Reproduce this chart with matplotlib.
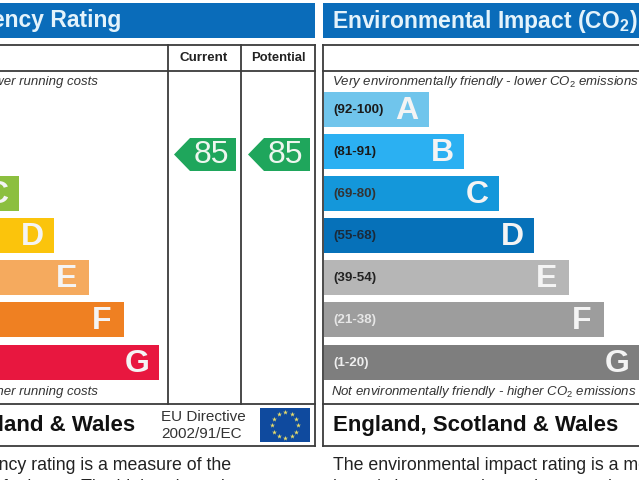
import matplotlib
matplotlib.use("Agg")
import matplotlib.pyplot as plt
from matplotlib.patches import Polygon, Rectangle
import numpy as np

plt.rcParams['font.family'] = ['Liberation Sans', 'DejaVu Sans']
plt.rcParams['mathtext.fontset'] = 'custom'
plt.rcParams['mathtext.rm'] = 'Liberation Sans'
plt.rcParams['mathtext.it'] = 'Liberation Sans:italic'
plt.rcParams['mathtext.bf'] = 'Liberation Sans:bold'

bands = ['A', 'B', 'C', 'D', 'E', 'F', 'G']
ranges = ['(92-100)', '(81-91)', '(69-80)', '(55-68)', '(39-54)', '(21-38)', '(1-20)']
band_lengths = [105, 140, 175, 210, 245, 280, 315]
band_tops = [92, 134, 176, 218, 260, 302, 345]
band_height = 34.5
energy_colors = ['#1a9a50', '#3cae48', '#8cbf3f', '#fbc40c', '#f5aa5e', '#ef8022', '#e8173f']
env_colors = ['#70c5ec', '#2bb0f2', '#1497da', '#0671b9', '#b6b6b6', '#9d9d9d', '#7e7e7e']
range_colors = ['#1a1a1a', '#1a1a1a', '#333333', '#1a2a3a', '#222222', '#e6e6e6', '#eeeeee']
current_rating = 85
potential_rating = 85

fig = plt.figure(figsize=(6.39, 4.80), dpi=100)
ax = fig.add_axes([0, 0, 1, 1])
ax.set_xlim(0, 639)
ax.set_ylim(480, 0)
ax.axis('off')

BLUE = '#0a6cba'
LINE = '#3c3c3c'
GREEN = '#1fa65c'
LEFT0, RIGHT0 = -156, 324
ITALIC = 9.5
PARA = 12.8

# header bands
ax.add_patch(Rectangle((-5, 3), 320, 35, fc=BLUE, ec='none'))
ax.add_patch(Rectangle((323, 3), 320, 35, fc=BLUE, ec='none'))
ax.text(121, 21, 'Energy Efficiency Rating', color='#e4f3fb', fontsize=16.5,
        fontweight='bold', ha='right', va='center')
ax.text(332, 21.5, r'Environmental Impact (CO$_{\mathbf{2}}$)', color='#e4f3fb',
        fontsize=16.5, fontweight='bold', ha='left', va='center')

# bars
ax.barh(band_tops, band_lengths, height=band_height, left=LEFT0, align='edge',
        color=energy_colors, linewidth=0, zorder=2)
ax.barh(band_tops, band_lengths, height=band_height, left=RIGHT0, align='edge',
        color=env_colors, linewidth=0, zorder=2)
for b, r, n, t, rc in zip(bands, ranges, band_lengths, band_tops, range_colors):
    yc = t + band_height / 2
    ax.text(RIGHT0 + n - 22, yc + 1.5, b, color='#f4f4f4', fontsize=23, fontweight='bold',
            ha='center', va='center', zorder=3)
    ax.text(RIGHT0 + 9, yc + 0.5, r, color=rc, fontsize=9.6, fontweight='bold',
            ha='left', va='center', zorder=3)
    if LEFT0 + n > 0:
        ax.text(LEFT0 + n - 22, yc + 1.5, b, color='#f4f4f4', fontsize=23, fontweight='bold',
                ha='center', va='center', zorder=3)

# table lines
lw = 1.3
for y in (45, 71, 404, 446):
    ax.plot([-5, 315], [y, y], color=LINE, lw=lw, zorder=4)
    ax.plot([323, 645], [y, y], color=LINE, lw=lw, zorder=4)
for x in (168, 241):
    ax.plot([x, x], [45, 404], color=LINE, lw=lw, zorder=4)
ax.plot([315, 315], [45, 446], color=LINE, lw=lw, zorder=4)
ax.plot([323, 323], [45, 446], color=LINE, lw=lw, zorder=1)

ax.text(204, 58, 'Current', color='#222222', fontsize=9.6, fontweight='bold', ha='center', va='center')
ax.text(278, 58, 'Potential', color='#222222', fontsize=9.4, fontweight='bold', ha='center', va='center')

ax.text(98, 81.5, 'Very energy efficient - lower running costs', color='#333333', fontsize=ITALIC,
        style='italic', ha='right', va='center')
ax.text(98, 392, 'Not energy efficient - higher running costs', color='#333333', fontsize=ITALIC,
        style='italic', ha='right', va='center')
ax.text(332, 81.5, r'Very environmentally friendly - lower CO$_{\mathit{2}}$ emissions', color='#333333',
        fontsize=ITALIC, style='italic', ha='left', va='center')
ax.text(331, 392, r'Not environmentally friendly - higher CO$_{\mathit{2}}$ emissions', color='#333333',
        fontsize=ITALIC, style='italic', ha='left', va='center')

# rating arrows
for xr, val in ((236, current_rating), (310, potential_rating)):
    ax.add_patch(Polygon([(xr, 138), (xr, 171), (xr - 46, 171), (xr - 62, 154.5), (xr - 46, 138)],
                         closed=True, fc=GREEN, ec='none', zorder=2))
    ax.text(xr - 25, 155, str(val), color='#eef6ef', fontsize=23, ha='center', va='center', zorder=3)

# footer
ax.text(135, 425.5, 'England & Wales', color='#111111', fontsize=16, fontweight='bold', ha='right', va='center')
ax.text(333, 425.5, 'England, Scotland & Wales', color='#111111', fontsize=16, fontweight='bold', ha='left', va='center')
ax.text(161, 417, 'EU Directive', color='#333333', fontsize=11, ha='left', va='center')
ax.text(161, 434.5, '2002/91/EC', color='#333333', fontsize=11, ha='left', va='center')

# EU flag
ax.add_patch(Rectangle((260, 408), 50, 34, fc='#0f4a9e', ec='none'))
ang = np.deg2rad(np.arange(0, 360, 30))
ax.scatter(285 + 13 * np.cos(ang), 425 + 13 * np.sin(ang), marker='*', s=14, color='#e8dc6a', linewidths=0, zorder=3)

# explanatory text, cut by the lower edge
ax.text(231, 466, 'The energy efficiency rating is a measure of the', color='#222222', fontsize=PARA, ha='right', va='center')
ax.text(245, 487, 'overall efficiency of a home. The higher the rating', color='#222222', fontsize=PARA, ha='right', va='center', clip_on=True)
ax.text(333, 466, 'The environmental impact rating is a measure of a', color='#222222', fontsize=PARA, ha='left', va='center')
ax.text(333, 487, "home's impact on the environment in terms of carbon", color='#222222', fontsize=PARA, ha='left', va='center', clip_on=True)

fig.savefig('out.png', dpi=100, facecolor='white')
